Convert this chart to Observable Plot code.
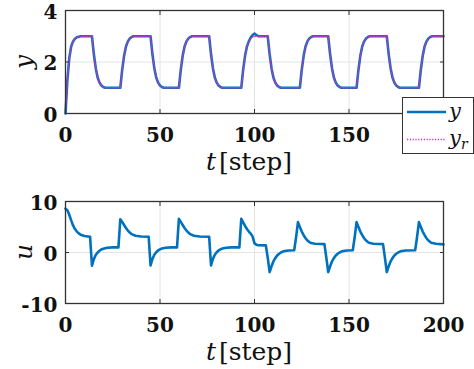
<!DOCTYPE html>
<html><head><meta charset="utf-8">
<script src="https://cdn.jsdelivr.net/npm/d3@7"></script>
<script src="https://cdn.jsdelivr.net/npm/@observablehq/plot@0.6"></script>
<style>
body{margin:0;background:#fff}
#wrap{position:relative;width:474px;height:369px;overflow:hidden;background:#fff}
#wrap svg.plot{position:absolute;left:0}
#leg{position:absolute;left:402px;top:97px;width:72px;height:57px;box-sizing:border-box;border:1.2px solid #333;background:#fff}
</style>
</head><body>
<div id="wrap"></div>
<script>
// ---- data ----
const xTicks = [0, 50, 100, 150, 200];
const xTickLabelsTop = [0, 50, 100, 150];   // 200 is hidden behind the legend in the reference
const yTicks = [0, 2, 4];
const uTicks = [-10, 0, 10];

const yT = [0,1,2,3,4,5,6,8,
  14,15,16,17,18,19,20,21,
  29,30,31,32,33,34,35,36,
  45,46,47,48,49,50,51,52,
  60,61,62,63,64,65,66,67,
  76,77,78,79,80,81,82,83,
  93,94,95,96,97,98,99,100,101,102,
  107,108,109,110,111,112,113,114,
  124,125,126,127,128,129,130,131,
  139,140,141,142,143,144,145,146,
  154,155,156,157,158,159,160,161,
  170,171,172,173,174,175,176,177,
  187,188,189,190,191,192,193,194,
  200];
const yVals = [0,1.3,2.15,2.6,2.8,2.9,2.96,3,
  3,2.3,1.76,1.4,1.2,1.09,1.03,1,
  1,1.7,2.24,2.6,2.8,2.91,2.97,3,
  3,2.3,1.76,1.4,1.2,1.09,1.03,1,
  1,1.7,2.24,2.6,2.8,2.91,2.97,3,
  3,2.3,1.76,1.4,1.2,1.09,1.03,1,
  1,1.7,2.24,2.6,2.8,2.95,3.05,3.1,3.05,3,
  3,2.3,1.76,1.4,1.2,1.09,1.03,1,
  1,1.7,2.24,2.6,2.8,2.91,2.97,3,
  3,2.3,1.76,1.4,1.2,1.09,1.03,1,
  1,1.7,2.24,2.6,2.8,2.91,2.97,3,
  3,2.3,1.76,1.4,1.2,1.09,1.03,1,
  1,1.7,2.24,2.6,2.8,2.91,2.97,3,
  3];
const yrVals = [0,1.3,2.15,2.6,2.8,2.9,2.96,3,
  3,2.3,1.76,1.4,1.2,1.09,1.03,1,
  1,1.7,2.24,2.6,2.8,2.91,2.97,3,
  3,2.3,1.76,1.4,1.2,1.09,1.03,1,
  1,1.7,2.24,2.6,2.8,2.91,2.97,3,
  3,2.3,1.76,1.4,1.2,1.09,1.03,1,
  1,1.7,2.24,2.6,2.8,2.91,2.97,3,3,3,
  3,2.3,1.76,1.4,1.2,1.09,1.03,1,
  1,1.7,2.24,2.6,2.8,2.91,2.97,3,
  3,2.3,1.76,1.4,1.2,1.09,1.03,1,
  1,1.7,2.24,2.6,2.8,2.91,2.97,3,
  3,2.3,1.76,1.4,1.2,1.09,1.03,1,
  1,1.7,2.24,2.6,2.8,2.91,2.97,3,
  3];

const uT = [0,1,2,3,4,5,6,7,8,10,13,
  14,15,16,17,18,19,20,22,25,28,
  29,30,31,32,33,34,35,37,40,44,
  45,46,47,48,49,50,51,53,56,59,
  60,61,62,63,64,65,66,68,71,76,
  77,78,79,80,81,82,83,85,88,92,
  93,94,95,96,97,98,99,100,101,102,106,
  107,108,109,110,111,112,113,114,115,116,118,121,
  122,123,124,125,126,127,128,129,130,132,135,137,
  138,139,140,141,142,143,144,145,146,147,149,152,
  153,154,155,156,157,158,159,160,161,163,166,168,
  169,170,171,172,173,174,175,176,177,178,180,185,
  186,187,188,189,190,191,192,193,194,196,200];
const uVals = [8.6,8.3,7.4,6.3,5.3,4.6,4.1,3.75,3.5,3.25,3.1,
  -2.6,-1.3,-0.5,0,0.35,0.6,0.75,0.92,1,1,
  6.5,6,5.4,4.8,4.3,3.9,3.6,3.3,3.15,3.1,
  -2.55,-1.25,-0.45,0.05,0.4,0.62,0.77,0.93,1,1,
  6.6,6,5.4,4.8,4.3,3.9,3.6,3.3,3.15,3.1,
  -2.55,-1.25,-0.45,0.05,0.4,0.62,0.77,0.93,1,1,
  6.6,5.9,5.2,4.6,4.1,3.7,3.1,1.8,1.5,1.42,1.4,
  -1,-3.85,-2.7,-1.75,-1.1,-0.6,-0.25,0,0.18,0.3,0.4,0.45,
  3,5.95,5,4.1,3.4,2.8,2.35,2.05,1.85,1.72,1.66,1.65,
  -1,-3.85,-2.7,-1.75,-1.1,-0.6,-0.25,0,0.18,0.3,0.4,0.45,
  3,5.95,5,4.1,3.4,2.8,2.35,2.05,1.85,1.72,1.66,1.65,
  -1,-3.85,-2.7,-1.75,-1.1,-0.6,-0.25,0,0.18,0.3,0.4,0.45,
  3,5.95,5,4.1,3.4,2.8,2.35,2.05,1.85,1.72,1.6];

const seriesNames = ["y", "y", "r"];
const labelT = ["t", "[step]"];

// ---- tables built from the arrays ----
const yRows = yT.map((t, i) => ({t, y: yVals[i], yr: yrVals[i]}));
const uRows = uT.map((t, i) => ({t, u: uVals[i]}));

const BLUE = "#0072BD", MAG = "#c833c0", FRAME = "#333", GRID = "#e4e4e4";
const SERIF = "DejaVu Serif";

function panel(yDomain, yTickList, xLabelTicks, opts, extraMarks) {
  return Plot.plot({
    width: 474, height: opts.height,
    marginLeft: 65, marginRight: 31, marginTop: opts.mt, marginBottom: opts.mb,
    style: {fontFamily: SERIF, fontSize: "20px", fontWeight: "bold", color: "#111", background: "transparent", overflow: "visible"},
    x: {domain: [0, 200]},
    y: {domain: yDomain},
    marks: [
      Plot.gridX(xTicks, {stroke: GRID, strokeOpacity: 1, strokeWidth: 1}),
      Plot.gridY(yTickList, {stroke: GRID, strokeOpacity: 1, strokeWidth: 1}),
      ...extraMarks,
      Plot.axisX(xLabelTicks, {anchor: "bottom", tickSize: 0, tickPadding: 14, label: null, tickFormat: d => String(d)}),
      Plot.axisY(yTickList, {anchor: "left", tickSize: 0, tickPadding: 8, dy: 2, label: null, tickFormat: d => String(d)}),
      Plot.axisX(xTicks, {anchor: "bottom", tickSize: -4, label: null, tickFormat: () => "", stroke: FRAME}),
      Plot.axisX(xTicks, {anchor: "top", tickSize: -4, label: null, tickFormat: () => "", stroke: FRAME}),
      Plot.axisY(yTickList, {anchor: "left", tickSize: -4, label: null, tickFormat: () => "", stroke: FRAME}),
      Plot.axisY(yTickList, {anchor: "right", tickSize: -4, label: null, tickFormat: () => "", stroke: FRAME}),
      Plot.frame({stroke: FRAME, strokeWidth: 1.3})
    ]
  });
}

const wrap = document.getElementById("wrap");

const topPlot = panel([0, 4], yTicks, xTickLabelsTop, {height: 185, mt: 10, mb: 72}, [
  Plot.line(yRows, {x: "t", y: "y", stroke: BLUE, strokeWidth: 2.6}),
  Plot.line(yRows, {x: "t", y: "yr", stroke: MAG, strokeWidth: 1.3, strokeDasharray: "1,1.6"})
]);
topPlot.classList.add("plot");
topPlot.style.top = "0px";
wrap.appendChild(topPlot);

const botPlot = panel([-10, 10], uTicks, xTicks, {height: 184, mt: 16, mb: 66}, [
  Plot.line(uRows, {x: "t", y: "u", stroke: BLUE, strokeWidth: 2.6})
]);
botPlot.classList.add("plot");
botPlot.style.top = "185px";
wrap.appendChild(botPlot);

function addLabels(svg, yName, pos) {
  const s = d3.select(svg);
  s.append("text")
    .attr("transform", "translate(32," + pos.ylab + ") rotate(-90)")
    .attr("text-anchor", "middle")
    .attr("fill", "#111")
    .attr("font-family", SERIF)
    .attr("font-style", "italic")
    .attr("font-weight", "normal")
    .attr("font-size", 25)
    .text(yName);
  const t = s.append("text")
    .attr("x", 249).attr("y", pos.xlab)
    .attr("text-anchor", "middle")
    .attr("fill", "#111")
    .attr("font-family", SERIF)
    .attr("font-weight", "normal")
    .attr("font-size", 25);
  t.append("tspan").attr("font-style", "italic").text(labelT[0]);
  t.append("tspan").attr("dx", 3).text(labelT[1]);
}
addLabels(topPlot, "y", {ylab: 62, xlab: 170});
addLabels(botPlot, "u", {ylab: 67, xlab: 175});

// legend
const leg = document.createElement("div");
leg.id = "leg";
leg.innerHTML = `<svg width="72" height="57" style="position:absolute;left:-1px;top:-1px" font-family="${SERIF}">
 <line x1="5" x2="44" y1="15" y2="15" stroke="${BLUE}" stroke-width="2.6"/>
 <text x="47" y="21" font-style="italic" font-size="21" fill="#111">${seriesNames[0]}</text>
 <line x1="5" x2="44" y1="42.5" y2="42.5" stroke="${MAG}" stroke-width="1.6" stroke-dasharray="1.2,1.6"/>
 <text x="47" y="48" font-style="italic" font-size="21" fill="#111">${seriesNames[1]}<tspan dy="4" font-size="14">${seriesNames[2]}</tspan></text>
</svg>`;
wrap.appendChild(leg);
</script>
</body></html>
